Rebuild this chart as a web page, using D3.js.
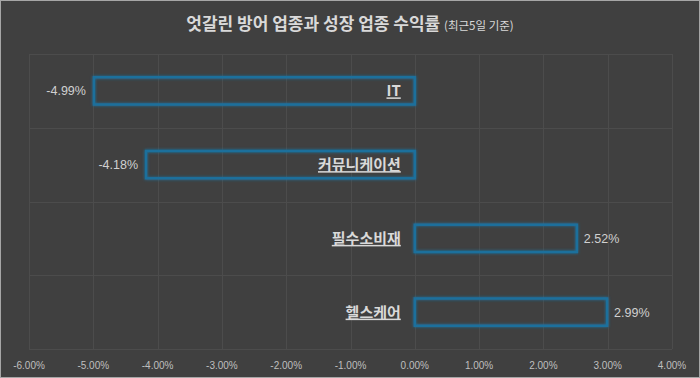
<!DOCTYPE html>
<html>
<head>
<meta charset="utf-8">
<script src="https://cdn.jsdelivr.net/npm/d3@7"></script>
<style>
  html, body { margin: 0; padding: 0; background: #404040; }
  svg { display: block; font-family: "Noto Sans CJK KR", "Noto Sans", sans-serif; }
</style>
</head>
<body>
<div id="chart"></div>
<script>
const categories = ['IT', '커뮤니케이션', '필수소비재', '헬스케어'];
const returns = [-4.99, -4.18, 2.52, 2.99];
const ticks = [-6, -5, -4, -3, -2, -1, 0, 1, 2, 3, 4];

const width = 700;
const height = 378;
const margin = { top: 54, right: 28, bottom: 29, left: 29 };

const svg = d3.select('#chart').append('svg')
  .attr('width', width)
  .attr('height', height);

svg.append('rect')
  .attr('x', 0.5).attr('y', 0.5)
  .attr('width', width - 1).attr('height', height - 1)
  .attr('fill', '#404040')
  .attr('stroke', '#a6a6a6');

// glow for the bar outlines
const glow = svg.append('defs').append('filter')
  .attr('id', 'glow')
  .attr('x', '-10%').attr('y', '-50%')
  .attr('width', '120%').attr('height', '200%');
glow.append('feGaussianBlur').attr('stdDeviation', 1.8).attr('result', 'blur');
const merge = glow.append('feMerge');
merge.append('feMergeNode').attr('in', 'blur');
merge.append('feMergeNode').attr('in', 'SourceGraphic');

const x = d3.scaleLinear()
  .domain([-6, 4])
  .range([margin.left, width - margin.right]);

const y = d3.scaleBand()
  .domain(categories)
  .range([margin.top, height - margin.bottom])
  .paddingInner(0.63)
  .paddingOuter(0.315);

const band = d3.scaleBand()
  .domain(categories)
  .range([margin.top, height - margin.bottom]);

// gridlines
svg.append('g')
  .selectAll('line')
  .data(ticks)
  .join('line')
  .attr('x1', d => Math.round(x(d)) + 0.5).attr('x2', d => Math.round(x(d)) + 0.5)
  .attr('y1', margin.top).attr('y2', height - margin.bottom)
  .attr('stroke', '#4c4c4c')
  .attr('stroke-width', 1);

const hLines = categories.map(c => band(c)).concat([height - margin.bottom]);
svg.append('g')
  .selectAll('line')
  .data(hLines)
  .join('line')
  .attr('x1', x(-6)).attr('x2', x(4))
  .attr('y1', d => Math.round(d) + 0.5).attr('y2', d => Math.round(d) + 0.5)
  .attr('stroke', '#4c4c4c')
  .attr('stroke-width', 1);

// x axis tick labels
svg.append('g')
  .selectAll('text')
  .data(ticks)
  .join('text')
  .attr('x', d => x(d))
  .attr('y', 369)
  .attr('text-anchor', 'middle')
  .attr('fill', '#bfbfbf')
  .style('font-size', '10px')
  .style('font-family', '"Liberation Sans", Arial, sans-serif')
  .text(d => d.toFixed(2) + '%');

// bars
const data = categories.map((c, i) => ({ label: c, value: returns[i] }));

svg.append('g')
  .selectAll('rect')
  .data(data)
  .join('rect')
  .attr('x', d => x(Math.min(0, d.value)))
  .attr('y', d => y(d.label))
  .attr('width', d => Math.abs(x(d.value) - x(0)))
  .attr('height', y.bandwidth())
  .attr('fill', 'none')
  .attr('stroke', '#1d6f9c')
  .attr('stroke-width', 2.5)
  .attr('filter', 'url(#glow)');

// category labels
svg.append('g')
  .selectAll('text')
  .data(data)
  .join('text')
  .attr('x', x(0) - 14)
  .attr('y', d => y(d.label) + y.bandwidth() / 2 + 5.5)
  .attr('text-anchor', 'end')
  .attr('fill', '#d9d9d9')
  .attr('font-weight', 'bold')
  .attr('text-decoration', 'underline')
  .style('font-size', '15px')
  .text(d => d.label);

// value labels
svg.append('g')
  .selectAll('text')
  .data(data)
  .join('text')
  .attr('x', d => d.value < 0 ? x(d.value) - 8 : x(d.value) + 7)
  .attr('y', d => y(d.label) + y.bandwidth() / 2 + 4.5)
  .attr('text-anchor', d => d.value < 0 ? 'end' : 'start')
  .attr('fill', '#d0d0d0')
  .style('font-size', '12.5px')
  .style('font-family', '"Liberation Sans", Arial, sans-serif')
  .text(d => d.value.toFixed(2) + '%');

// title
const title = svg.append('text')
  .attr('x', 350)
  .attr('y', 30)
  .attr('text-anchor', 'middle')
  .attr('fill', '#d9d9d9');
title.append('tspan')
  .attr('font-weight', 'bold')
  .style('font-size', '17px')
  .text('엇갈린 방어 업종과 성장 업종 수익률 ');
title.append('tspan')
  .style('font-size', '11.5px')
  .text('(최근5일 기준)');
</script>
</body>
</html>
